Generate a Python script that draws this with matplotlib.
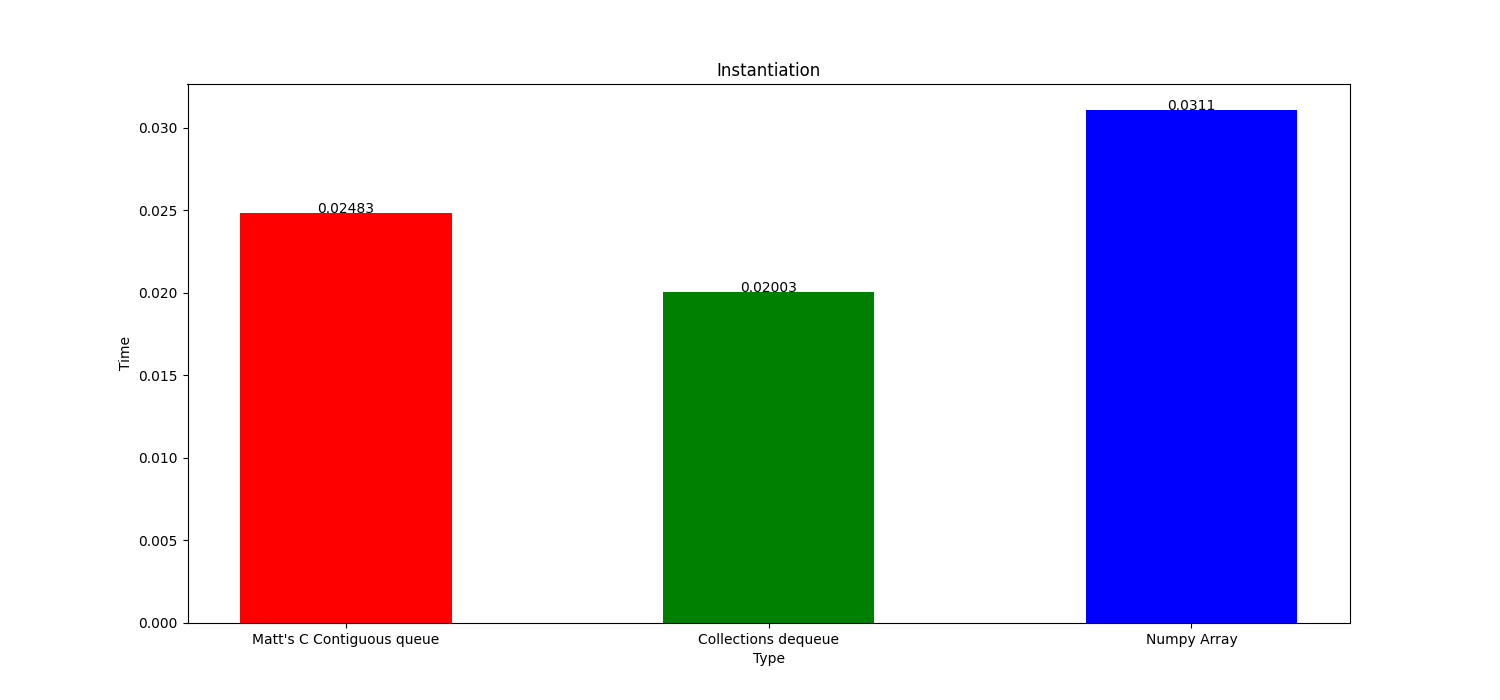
import matplotlib
matplotlib.use("Agg")
import matplotlib.pyplot as plt

categories = ["Matt's C Contiguous queue", "Collections dequeue", "Numpy Array"]
values = [0.02483, 0.02003, 0.0311]
colors = ["red", "green", "blue"]

fig, ax = plt.subplots(figsize=(15, 7), dpi=100)
ax.bar(categories, values, width=0.5, color=colors)
for i, v in enumerate(values):
    ax.text(i, v, str(v), ha="center")
ax.set_title("Instantiation")
ax.set_xlabel("Type")
ax.set_ylabel("Time")
fig.savefig("out.png")
